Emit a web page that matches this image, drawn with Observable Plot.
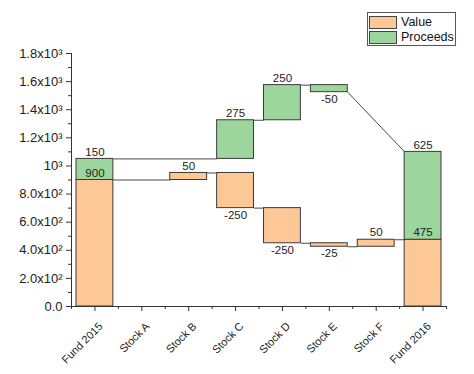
<!DOCTYPE html>
<html><head><meta charset="utf-8">
<script src="https://cdn.jsdelivr.net/npm/d3@7"></script>
<script src="https://cdn.jsdelivr.net/npm/@observablehq/plot@0.6"></script>
<style>
body{margin:0;background:#fff;font-family:"Liberation Sans",Arial,sans-serif;}
#wrap{position:relative;width:474px;height:374px;}
#wrap svg{font-family:"Liberation Sans",Arial,sans-serif;}
#legend{position:absolute;left:367px;top:12px;width:89px;height:34px;border:1px solid #555;background:#fff;font-size:12.5px;color:#111;box-sizing:border-box;}
.item{position:absolute;left:1px;height:14px;display:flex;align-items:center;}
.sw{width:28px;height:13px;border:1px solid #444;box-sizing:border-box;margin-right:4px;}
</style></head><body><div id="wrap"><div id="legend"></div></div>
<script>
const categories = ["Fund 2015","Stock A","Stock B","Stock C","Stock D","Stock E","Stock F","Fund 2016"];
const valueChange = [900, 0, 50, -250, -250, -25, 50, 475];
const proceedsChange = [150, 0, 0, 275, 250, -50, 0, 625];
const isTotal = [true, false, false, false, false, false, false, true];
const yTicks = [0, 200, 400, 600, 800, 1000, 1200, 1400, 1600, 1800];
const yTickLabels = ["0.0","2.0x10²","4.0x10²","6.0x10²","8.0x10²","10³","1.2x10³","1.4x10³","1.6x10³","1.8x10³"];
const yMinorTicks = [100, 300, 500, 700, 900, 1100, 1300, 1500, 1700];
const seriesNames = ["Value", "Proceeds"];
const seriesColors = ["#FDC796", "#9CD69C"];

const half = 0.393; // half bar width as fraction of category step
const bars = [], labels = [], connectors = [];
let vLevel = 0, pLevel = 0;
const last = [null, null];
categories.forEach((c, i) => {
  let v0, v1, p0, p1;
  if (isTotal[i]) {
    v0 = 0; v1 = valueChange[i]; p0 = v1; p1 = v1 + proceedsChange[i];
  } else {
    v0 = vLevel; v1 = vLevel + valueChange[i]; p0 = pLevel; p1 = pLevel + proceedsChange[i];
  }
  vLevel = v1; pLevel = p1;
  const segs = [[v0, v1, valueChange[i]], [p0, p1, proceedsChange[i]]];
  segs.forEach(([s, e, ch], k) => {
    if (ch === 0) return;
    bars.push({x1: i - half, x2: i + half, y1: s, y2: e, fill: seriesColors[k]});
    labels.push({x: i, y: e, text: String(ch), neg: ch < 0});
    if (last[k]) {
      const target = isTotal[i] ? Math.max(s, e) : s;
      connectors.push({x1: last[k].i + half, y1: last[k].end, x2: i - half, y2: target});
    }
    last[k] = {i, end: e};
  });
});

const xTicks = d3.range(categories.length);
const xMinor = d3.range(categories.length + 1).map(i => i - 0.5);

const chart = Plot.plot({
  width: 474, height: 374,
  marginLeft: 71, marginRight: 28, marginTop: 53, marginBottom: 68,
  style: {fontFamily: "Liberation Sans, Arial, sans-serif", fontSize: "12px", color: "#222", background: "white"},
  x: {type: "linear", domain: [-0.5, categories.length - 0.5], axis: null},
  y: {domain: [0, 1800], axis: null},
  marks: [
    Plot.rect(bars, {x1: "x1", x2: "x2", y1: "y1", y2: "y2", fill: "fill", stroke: "#3a3a3a", strokeWidth: 1}),
    Plot.link(connectors, {x1: "x1", y1: "y1", x2: "x2", y2: "y2", stroke: "#4a4a4a", strokeWidth: 1}),
    Plot.text(labels.filter(d => !d.neg), {x: "x", y: "y", text: "text", dy: -7, fontSize: 11.5, fill: "#222"}),
    Plot.text(labels.filter(d => d.neg), {x: "x", y: "y", text: "text", dy: 7, fontSize: 11.5, fill: "#222"}),
    Plot.ruleY([0], {stroke: "#333"}),
    Plot.ruleX([-0.5], {y1: 0, y2: 1800, stroke: "#333"}),
    Plot.axisX({ticks: xTicks, tickFormat: () => "", tickSize: 5, stroke: "#333"}),
    Plot.axisX({ticks: xTicks, tickFormat: i => categories[i], tickRotate: -45, tickSize: 0, tickPadding: 18, dx: 6, fill: "#222", fontSize: 11}),
    Plot.axisX({ticks: xMinor, tickFormat: () => "", tickSize: 3, stroke: "#333"}),
    Plot.axisY({ticks: yTicks, tickFormat: d => yTickLabels[yTicks.indexOf(d)], tickSize: 5, tickPadding: 4, stroke: "#333", fill: "#222", fontSize: 13}),
    Plot.axisY({ticks: yMinorTicks, tickFormat: () => "", tickSize: 3, stroke: "#333"})
  ]
});
const wrap = document.getElementById("wrap");
wrap.insertBefore(chart, wrap.firstChild);

const legend = document.getElementById("legend");
seriesNames.forEach((n, k) => {
  const it = document.createElement("div");
  it.className = "item";
  it.style.top = (2 + k * 15) + "px";
  it.innerHTML = `<div class="sw" style="background:${seriesColors[k]}"></div><span>${n}</span>`;
  legend.appendChild(it);
});
</script>
</body></html>
